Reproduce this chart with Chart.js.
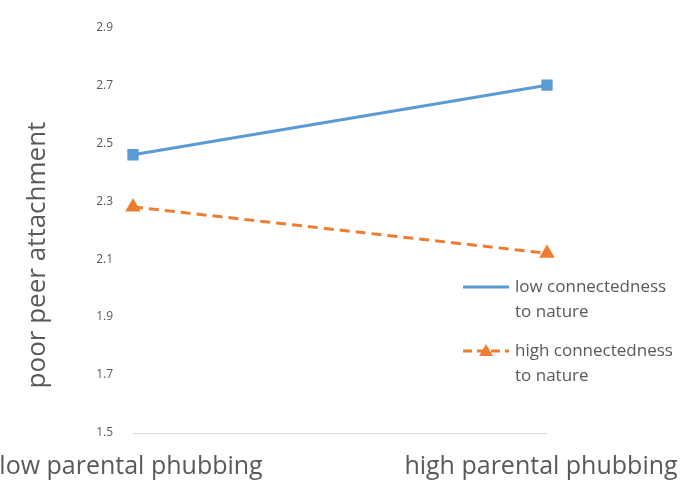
<!DOCTYPE html>
<html>
<head>
<meta charset="utf-8">
<script src="https://cdn.jsdelivr.net/npm/chart.js@4"></script>
<style>body{margin:0;background:#fff}</style>
</head>
<body>
<canvas id="c" width="685" height="485"></canvas>
<script>
var categories = ['low parental phubbing', 'high parental phubbing'];
var lowNature = [2.46, 2.70];
var highNature = [2.28, 2.12];
var seriesNames = [['low connectedness', 'to nature'], ['high connectedness', 'to nature']];
var yTicks = [1.5, 1.7, 1.9, 2.1, 2.3, 2.5, 2.7, 2.9];

var BLUE = '#5B9BD5', ORANGE = '#ED7D31', GREY = '#595959';

var extras = {
    id: 'extras',
    afterDraw: function(chart) {
        var ctx = chart.ctx;
        ctx.save();
        // x labels
        ctx.fillStyle = GREY;
        ctx.font = '25px "Open Sans", sans-serif';
        ctx.textAlign = 'center';
        ctx.textBaseline = 'middle';
        ctx.fillText(categories[0], 131, 467);
        ctx.fillText(categories[1], 541, 467);
        // y title
        ctx.font = '26px "Open Sans", sans-serif';
        ctx.translate(38, 255);
        ctx.rotate(-Math.PI / 2);
        ctx.fillText('poor peer attachment', 0, 0);
        ctx.restore();

        // legend
        ctx.save();
        ctx.font = '17px "Open Sans", sans-serif';
        ctx.fillStyle = GREY;
        ctx.textBaseline = 'middle';
        ctx.lineWidth = 3;
        ctx.strokeStyle = BLUE;
        ctx.beginPath(); ctx.moveTo(463, 287); ctx.lineTo(509, 287); ctx.stroke();
        ctx.fillText(seriesNames[0][0], 515, 287);
        ctx.fillText(seriesNames[0][1], 515, 312);
        ctx.strokeStyle = ORANGE;
        ctx.setLineDash([9, 5]);
        ctx.beginPath(); ctx.moveTo(463, 351); ctx.lineTo(509, 351); ctx.stroke();
        ctx.setLineDash([]);
        ctx.fillStyle = ORANGE;
        ctx.beginPath(); ctx.moveTo(486, 344); ctx.lineTo(493, 356); ctx.lineTo(479, 356); ctx.closePath(); ctx.fill();
        ctx.fillStyle = GREY;
        ctx.fillText(seriesNames[1][0], 515, 351);
        ctx.fillText(seriesNames[1][1], 515, 376);
        ctx.restore();
    }
};

new Chart(document.getElementById('c'), {
    type: 'line',
    data: {
        labels: categories,
        datasets: [{
            label: seriesNames[0].join(' '),
            data: lowNature,
            borderColor: BLUE, backgroundColor: BLUE,
            borderWidth: 3, pointStyle: 'rect', pointRadius: 8, pointBorderWidth: 0
        }, {
            label: seriesNames[1].join(' '),
            data: highNature,
            borderColor: ORANGE, backgroundColor: ORANGE,
            borderWidth: 3, borderDash: [10, 6],
            pointStyle: 'triangle', pointRadius: 9, pointBorderWidth: 0
        }]
    },
    options: {
        responsive: false,
        animation: false,
        layout: { padding: { top: -11, right: 138 } },
        plugins: { legend: { display: false }, tooltip: { enabled: false } },
        scales: {
            x: {
                offset: false,
                grid: { display: false },
                border: { display: false },
                ticks: { display: false },
                afterFit: function(s) { s.height = 52; }
            },
            y: {
                min: 1.5, max: 2.9,
                afterBuildTicks: function(s) { s.ticks = yTicks.map(function(v) { return { value: v }; }); },
                border: { display: false },
                grid: {
                    color: function(c) { return c.tick && c.tick.value == 1.5 ? '#D9D9D9' : 'rgba(0,0,0,0)'; },
                    drawTicks: false
                },
                ticks: {
                    color: GREY, padding: 20,
                    font: { size: 12, family: '"Open Sans", sans-serif' },
                    callback: function(v) { return v.toFixed(1); }
                },
                afterFit: function(s) { s.width = 133; }
            }
        }
    },
    plugins: [extras]
});
</script>
</body>
</html>
